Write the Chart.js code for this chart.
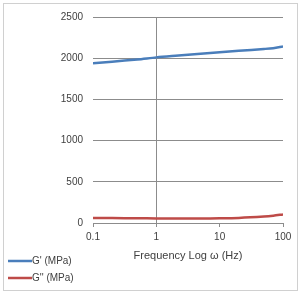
<!DOCTYPE html>
<html>
<head>
<meta charset="utf-8">
<script src="https://cdn.jsdelivr.net/npm/chart.js@4"></script>
<style>
  html, body { margin: 0; padding: 0; background: #fff; }
  #wrap { width: 302px; height: 294px; position: relative; }
</style>
</head>
<body>
<div id="wrap"><canvas id="chart" width="302" height="294"></canvas></div>
<script>
// data
const freqHz = [0.1, 0.2, 0.5, 1, 2, 5, 10, 20, 50, 70, 100];
const gPrime = [1940, 1958, 1985, 2010, 2030, 2055, 2072, 2090, 2112, 2122, 2142];
const gDouble = [62, 60, 58, 56, 55, 55, 57, 62, 78, 88, 104];
const xTicks = [0.1, 1, 10, 100];
const seriesNames = ["G' (MPa)", "G'' (MPa)"];
const seriesColors = ['#4a7ebb', '#be4b48'];

const gridGray = '#8c8c8c';
const textGray = '#404040';
const baseFont = 'Liberation Sans, Arial, sans-serif';

function toPoints(ys) {
  return freqHz.map((f, i) => ({ x: f, y: ys[i] }));
}

// frame + legend bottom-left (two rows)
const frameLegend = {
  id: 'frameLegend',
  beforeDraw(chart) {
    const c = chart.ctx;
    c.save();
    c.fillStyle = '#fff';
    c.fillRect(0, 0, chart.width, chart.height);
    c.strokeStyle = '#d0d0d0';
    c.lineWidth = 1;
    c.strokeRect(3.5, 3.5, 294, 287);
    c.restore();
  },
  afterDraw(chart) {
    const c = chart.ctx;
    c.save();
    c.font = '10px ' + baseFont;
    c.textBaseline = 'middle';
    c.fillStyle = textGray;
    const rows = [261, 278];
    chart.data.datasets.forEach((ds, i) => {
      c.strokeStyle = ds.borderColor;
      c.lineWidth = 2.5;
      c.beginPath();
      c.moveTo(8, rows[i]);
      c.lineTo(32, rows[i]);
      c.stroke();
      c.fillText(ds.label, 32, rows[i]);
    });
    c.restore();
  }
};

new Chart(document.getElementById('chart'), {
  type: 'line',
  data: {
    datasets: [
      { label: seriesNames[0], data: toPoints(gPrime), borderColor: seriesColors[0], borderWidth: 2.5, pointRadius: 0, tension: 0.3 },
      { label: seriesNames[1], data: toPoints(gDouble), borderColor: seriesColors[1], borderWidth: 2.5, pointRadius: 0, tension: 0.3 }
    ]
  },
  options: {
    responsive: false,
    animation: false,
    layout: { padding: { left: 0, right: 19, top: 17, bottom: 27 } },
    plugins: {
      legend: { display: false },
      tooltip: { enabled: false }
    },
    scales: {
      x: {
        type: 'logarithmic',
        min: 0.1,
        max: 100,
        afterBuildTicks: (scale) => { scale.ticks = xTicks.map(v => ({ value: v })); },
        afterFit: (scale) => { scale.height = 44; },
        ticks: {
          color: textGray,
          font: { family: baseFont, size: 10 },
          padding: 4,
          maxRotation: 0,
          callback: (v) => String(v)
        },
        grid: {
          color: (ctx) => (ctx.tick && ctx.tick.value === 1) ? gridGray : 'rgba(0,0,0,0)',
          tickColor: gridGray,
          tickLength: 4
        },
        border: { display: true, color: gridGray },
        title: {
          display: true,
          text: 'Frequency Log ω (Hz)',
          color: textGray,
          font: { family: baseFont, size: 11 },
          padding: { top: 4, bottom: 4 }
        }
      },
      y: {
        min: 0,
        max: 2500,
        afterFit: (scale) => { scale.width = 93; },
        ticks: {
          stepSize: 500,
          color: textGray,
          font: { family: baseFont, size: 10 },
          padding: 10,
          callback: (v) => String(v)
        },
        grid: { color: gridGray, drawTicks: false },
        border: { display: false }
      }
    }
  },
  plugins: [frameLegend]
});
</script>
</body>
</html>
